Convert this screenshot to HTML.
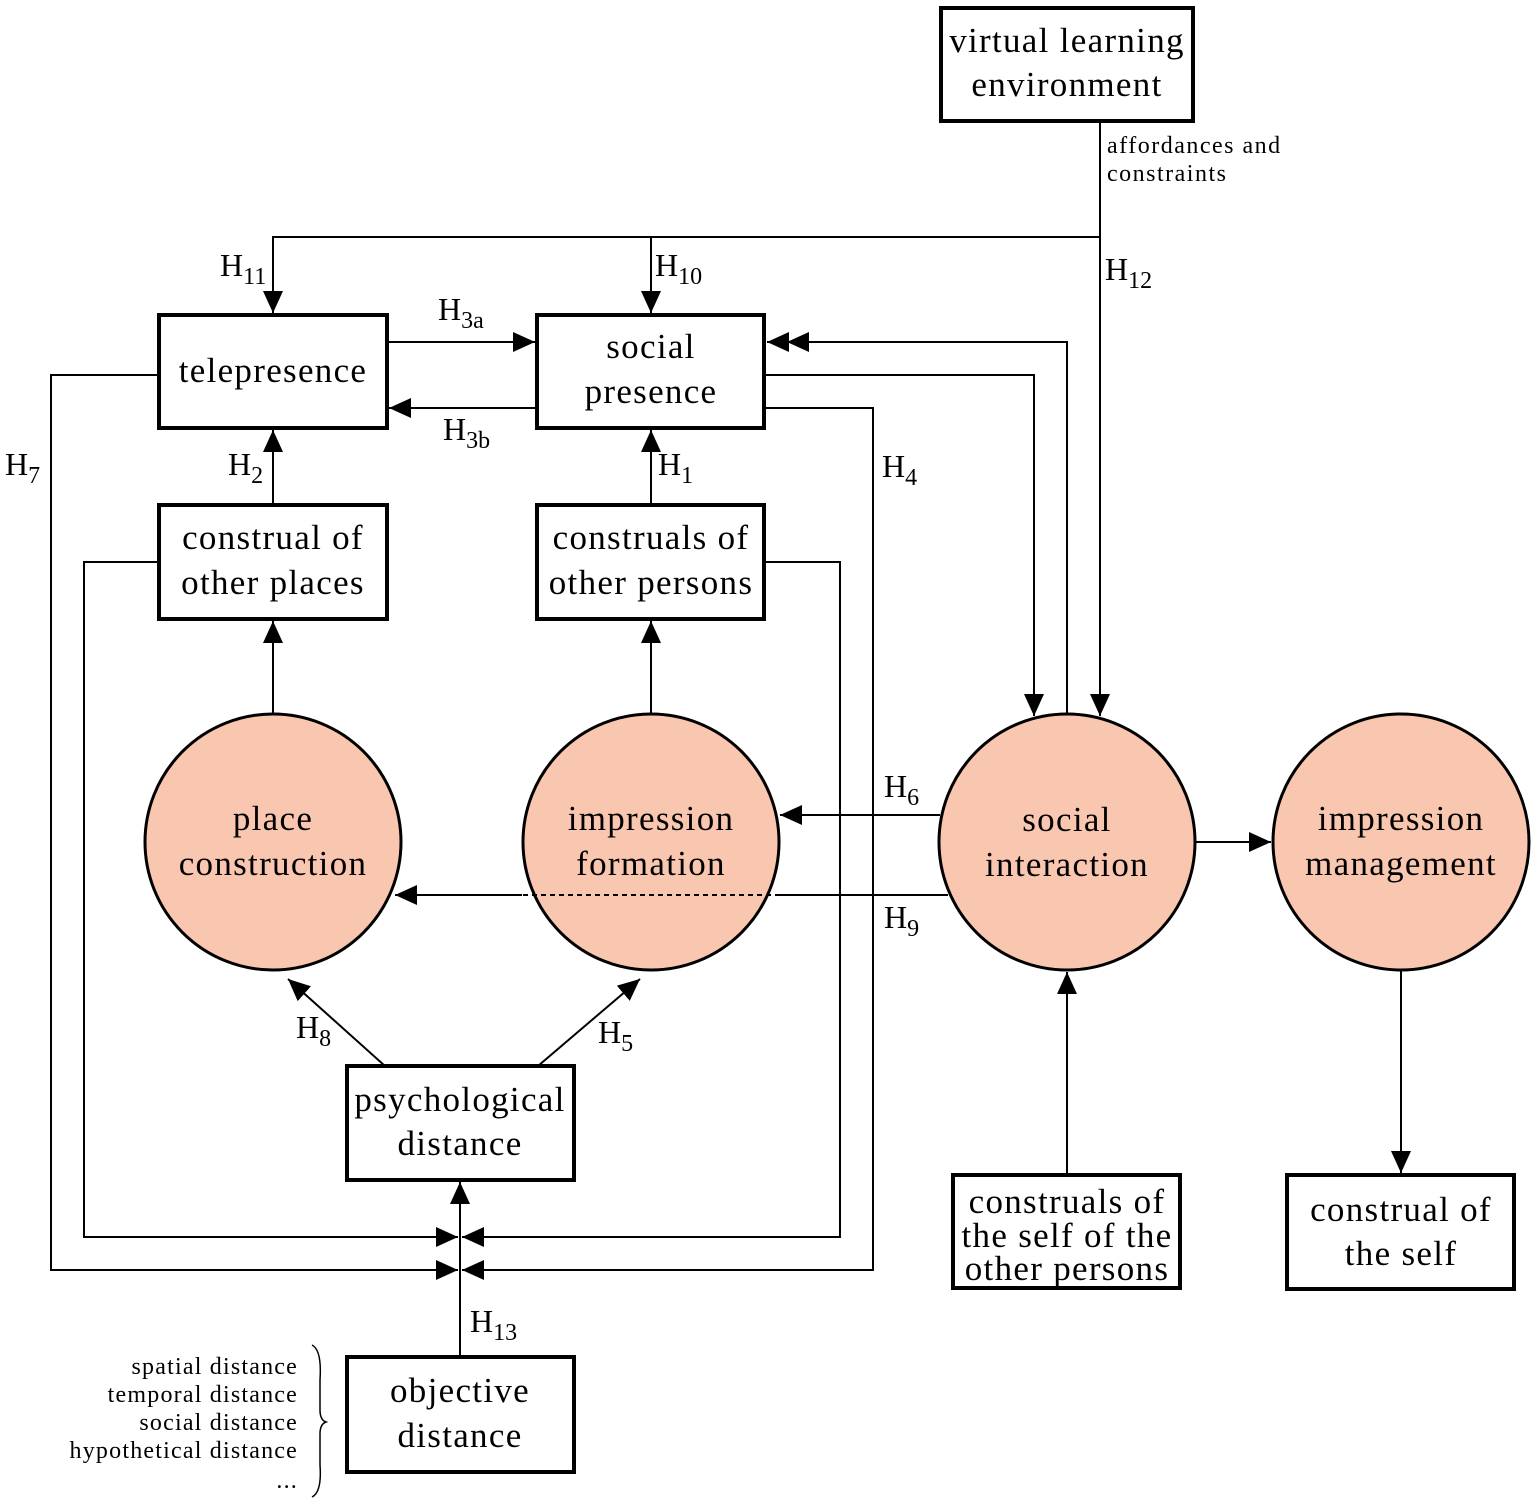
<!DOCTYPE html>
<html><head><meta charset="utf-8"><style>body{margin:0;background:#fff}svg{display:block}text{font-family:"Liberation Serif",serif;fill:#000}</style></head><body>
<svg width="1535" height="1504" viewBox="0 0 1535 1504" xmlns="http://www.w3.org/2000/svg">
<defs><marker id="a" markerWidth="24" markerHeight="20" refX="22" refY="10" orient="auto" markerUnits="userSpaceOnUse"><path d="M0,0L22,10L0,20Z"/></marker></defs>
<g fill="none" stroke="#000" stroke-width="2">
<line x1="1100" y1="121" x2="1100" y2="716" marker-end="url(#a)"/>
<polyline points="1100,237 273,237 273,313" marker-end="url(#a)"/>
<line x1="651" y1="237" x2="651" y2="313" marker-end="url(#a)"/>
<line x1="387" y1="342" x2="535" y2="342" marker-end="url(#a)"/>
<line x1="537" y1="408" x2="389" y2="408" marker-end="url(#a)"/>
<polyline points="159,375 51,375 51,1270 458,1270" marker-end="url(#a)"/>
<polyline points="159,562 84,562 84,1237 458,1237" marker-end="url(#a)"/>
<polyline points="764,562 840,562 840,1237 462,1237" marker-end="url(#a)"/>
<polyline points="764,408 873,408 873,1270 462,1270" marker-end="url(#a)"/>
<polyline points="1067,716 1067,342 767,342" marker-end="url(#a)"/>
<line x1="800" y1="342" x2="787" y2="342" marker-end="url(#a)"/>
<polyline points="764,375 1034,375 1034,716" marker-end="url(#a)"/>
<line x1="273" y1="505" x2="273" y2="430" marker-end="url(#a)"/>
<line x1="651" y1="505" x2="651" y2="430" marker-end="url(#a)"/>
<line x1="273" y1="714" x2="273" y2="621" marker-end="url(#a)"/>
<line x1="651" y1="714" x2="651" y2="621" marker-end="url(#a)"/>
<line x1="460" y1="1357" x2="460" y2="1182" marker-end="url(#a)"/>
<line x1="385" y1="1066" x2="288" y2="979" marker-end="url(#a)"/>
<line x1="538" y1="1066" x2="640" y2="979" marker-end="url(#a)"/>
<line x1="1067" y1="1175" x2="1067" y2="972" marker-end="url(#a)"/>
<line x1="1401" y1="970" x2="1401" y2="1173" marker-end="url(#a)"/>
<line x1="1195" y1="842" x2="1271" y2="842" marker-end="url(#a)"/>
</g>
<g fill="#f9c6b0" stroke="#000" stroke-width="3">
<circle cx="273" cy="842" r="128"/><circle cx="651" cy="842" r="128"/><circle cx="1067" cy="842" r="128"/><circle cx="1401" cy="842" r="128"/>
</g>
<g fill="none" stroke="#000" stroke-width="2">
<line x1="940" y1="815" x2="780" y2="815" marker-end="url(#a)"/>
<line x1="948" y1="895" x2="780" y2="895"/>
<line x1="780" y1="895" x2="522" y2="895" stroke-dasharray="5,4"/>
<line x1="522" y1="895" x2="395" y2="895" marker-end="url(#a)"/>
<path d="M312,1345 Q322,1350 320,1380 L320,1410 Q320,1420 326,1422 Q320,1424 320,1434 L320,1465 Q322,1492 312,1497" stroke-width="1.5"/>
</g>
<g fill="#fff" stroke="#000" stroke-width="4">
<rect x="941" y="8" width="252" height="113"/>
<rect x="159" y="315" width="228" height="113"/>
<rect x="537" y="315" width="227" height="113"/>
<rect x="159" y="505" width="228" height="114"/>
<rect x="537" y="505" width="227" height="114"/>
<rect x="347" y="1066" width="227" height="114"/>
<rect x="347" y="1357" width="227" height="115"/>
<rect x="953" y="1175" width="227" height="113"/>
<rect x="1287" y="1175" width="227" height="114"/>
</g>
<g font-size="35" text-anchor="middle" letter-spacing="1.3">
<text x="1067" y="52">virtual learning</text><text x="1067" y="96">environment</text>
<text x="273" y="382">telepresence</text>
<text x="651" y="358">social</text><text x="651" y="403">presence</text>
<text x="273" y="549">construal of</text><text x="273" y="594">other places</text>
<text x="651" y="549">construals of</text><text x="651" y="594">other persons</text>
<text x="273" y="830">place</text><text x="273" y="875">construction</text>
<text x="651" y="830">impression</text><text x="651" y="875">formation</text>
<text x="1067" y="831">social</text><text x="1067" y="876">interaction</text>
<text x="1401" y="830">impression</text><text x="1401" y="875">management</text>
<text x="460" y="1111">psychological</text><text x="460" y="1155">distance</text>
<text x="460" y="1402">objective</text><text x="460" y="1447">distance</text>
<text x="1067" y="1213">construals of</text><text x="1067" y="1247">the self of the</text><text x="1067" y="1280">other persons</text>
<text x="1401" y="1221">construal of</text><text x="1401" y="1265">the self</text>
</g>
<g font-size="24" letter-spacing="1.5">
<text x="1107" y="153">affordances and</text><text x="1107" y="181">constraints</text>
</g>
<g font-size="24" text-anchor="end" letter-spacing="1.2">
<text x="298" y="1374">spatial distance</text><text x="298" y="1402">temporal distance</text><text x="298" y="1430">social distance</text><text x="298" y="1458">hypothetical distance</text><text x="298" y="1488">...</text>
</g>
<g font-size="32">
<text x="220" y="276">H<tspan font-size="24" dy="8">11</tspan></text>
<text x="655" y="276">H<tspan font-size="24" dy="8">10</tspan></text>
<text x="1105" y="280">H<tspan font-size="24" dy="8">12</tspan></text>
<text x="438" y="320">H<tspan font-size="24" dy="8">3a</tspan></text>
<text x="443" y="440">H<tspan font-size="24" dy="8">3b</tspan></text>
<text x="5" y="475">H<tspan font-size="24" dy="8">7</tspan></text>
<text x="228" y="475">H<tspan font-size="24" dy="8">2</tspan></text>
<text x="658" y="475">H<tspan font-size="24" dy="8">1</tspan></text>
<text x="882" y="477">H<tspan font-size="24" dy="8">4</tspan></text>
<text x="884" y="797">H<tspan font-size="24" dy="8">6</tspan></text>
<text x="884" y="928">H<tspan font-size="24" dy="8">9</tspan></text>
<text x="296" y="1038">H<tspan font-size="24" dy="8">8</tspan></text>
<text x="598" y="1043">H<tspan font-size="24" dy="8">5</tspan></text>
<text x="470" y="1332">H<tspan font-size="24" dy="8">13</tspan></text>
</g>
</svg>
</body></html>
